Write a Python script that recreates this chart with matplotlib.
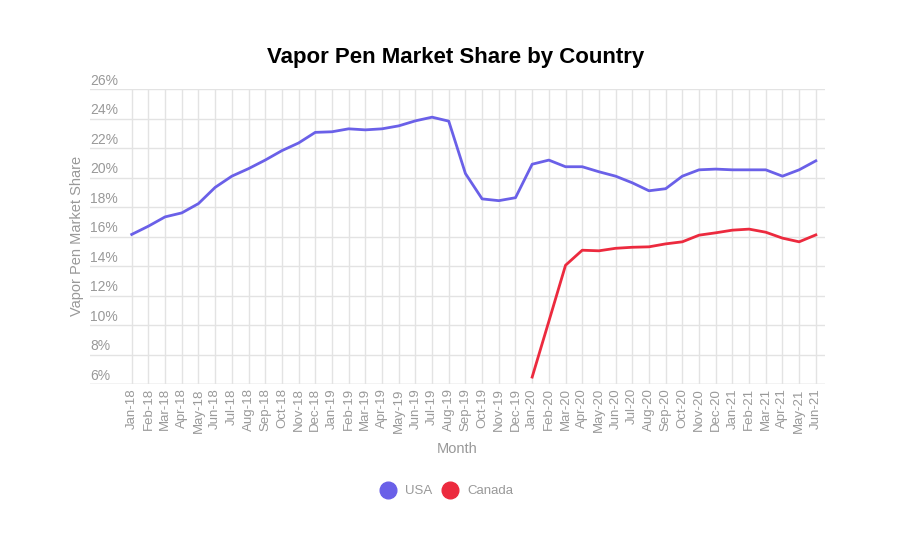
import matplotlib.pyplot as plt
from matplotlib.lines import Line2D

plt.rcParams['font.family'] = ['Liberation Sans', 'DejaVu Sans']

months = ['Jan-18', 'Feb-18', 'Mar-18', 'Apr-18', 'May-18', 'Jun-18', 'Jul-18', 'Aug-18',
          'Sep-18', 'Oct-18', 'Nov-18', 'Dec-18', 'Jan-19', 'Feb-19', 'Mar-19', 'Apr-19',
          'May-19', 'Jun-19', 'Jul-19', 'Aug-19', 'Sep-19', 'Oct-19', 'Nov-19', 'Dec-19',
          'Jan-20', 'Feb-20', 'Mar-20', 'Apr-20', 'May-20', 'Jun-20', 'Jul-20', 'Aug-20',
          'Sep-20', 'Oct-20', 'Nov-20', 'Dec-20', 'Jan-21', 'Feb-21', 'Mar-21', 'Apr-21',
          'May-21', 'Jun-21']

usa = [16.14, 16.7, 17.33, 17.6, 18.23, 19.33, 20.09, 20.6, 21.18, 21.82, 22.34, 23.06,
       23.1, 23.3, 23.23, 23.3, 23.5, 23.84, 24.09, 23.82, 20.27, 18.55, 18.43, 18.63,
       20.9, 21.18, 20.73, 20.73, 20.39, 20.09, 19.64, 19.1, 19.24, 20.09, 20.52, 20.57,
       20.52, 20.52, 20.52, 20.09, 20.52, 21.13]

# Canada starts Jan-20
canada_months = months[24:]
canada = [6.47, 10.25, 14.05, 15.07, 15.03, 15.2, 15.27, 15.3, 15.5, 15.64, 16.09, 16.25,
          16.43, 16.5, 16.29, 15.89, 15.64, 16.11]

y_ticks = [6, 8, 10, 12, 14, 16, 18, 20, 22, 24, 26]

usa_color = '#6a60e8'
can_color = '#ec2a3e'
grey = '#999999'

fig = plt.figure(figsize=(9.07, 5.38), dpi=100)
ax = fig.add_axes([90 / 907, 1 - 384 / 538, 735 / 907, 295 / 538])

x_usa = list(range(len(months)))
x_can = list(range(24, 24 + len(canada_months)))
ax.plot(x_usa, usa, color=usa_color, lw=2, solid_joinstyle='round')
ax.plot(x_can, canada, color=can_color, lw=2, solid_joinstyle='round')

ax.set_xlim(-2.5, 41.55)
ax.set_ylim(6, 26)
ax.set_xticks(x_usa)
ax.set_xticklabels(months, rotation=90, color=grey, fontsize=9.5)
ax.set_yticks(y_ticks)
ax.set_yticklabels([])
ax.tick_params(length=0, pad=3)
for v in y_ticks:
    ax.text(0.0, v + 0.55, str(v) + '%', transform=ax.get_yaxis_transform(),
            ha='left', va='center', color=grey, fontsize=10)

ax.grid(True, color='#e3e3e3', lw=1)
ax.set_axisbelow(True)
for s in ax.spines.values():
    s.set_visible(False)
ax.axhline(6, color='#d8d8d8', lw=1, zorder=0)

ax.set_xlabel('Month', color=grey, fontsize=10.5, labelpad=7)
fig.text(77 / 907, 1 - 236 / 538, 'Vapor Pen Market Share', rotation=90,
         ha='center', va='center', color=grey, fontsize=10.5)

fig.text(456 / 907, 1 - 57 / 538, 'Vapor Pen Market Share by Country',
         ha='center', va='center', fontsize=16, fontweight='bold', color='black')

handles = [Line2D([], [], ls='', marker='o', markersize=12, color=usa_color),
           Line2D([], [], ls='', marker='o', markersize=12, color=can_color)]
leg = fig.legend(handles, ['USA', 'Canada'], loc='center', ncol=2,
                 bbox_to_anchor=(444 / 907, 1 - 491 / 538), frameon=False,
                 handletextpad=0.3, columnspacing=0.4, fontsize=9.5)
for t in leg.get_texts():
    t.set_color(grey)

fig.savefig('out.png', dpi=100)
